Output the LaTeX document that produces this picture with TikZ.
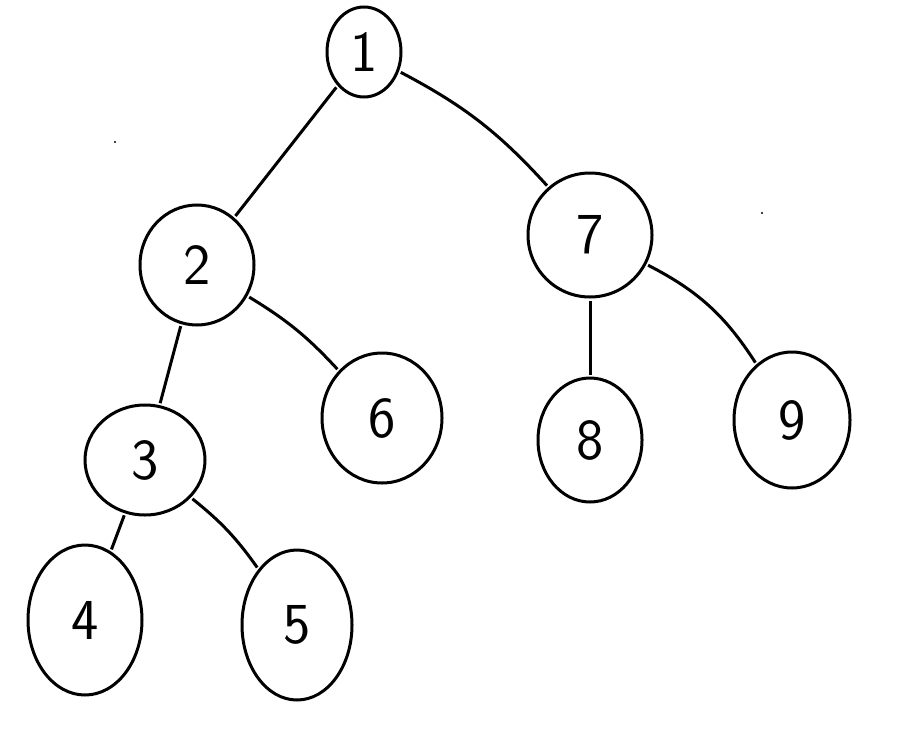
\documentclass[tikz,border=0pt]{standalone}
\usetikzlibrary{shapes.geometric}
\begin{document}
\begin{tikzpicture}[x=1pt,y=-1pt,line width=3pt,
  tn/.style={draw,ellipse,inner sep=0pt,font=\fontsize{58}{58}\selectfont\sffamily},
  ed/.style={shorten <=2pt,shorten >=2pt}]
\useasboundingbox (0,0) rectangle (917,741);
\node[tn,minimum width=74,minimum height=90] (n1) at (364,52) {1};
\node[tn,minimum width=114,minimum height=120] (n2) at (197,265) {2};
\node[tn,minimum width=124,minimum height=124] (n7) at (590,235) {7};
\node[tn,minimum width=120,minimum height=110] (n3) at (145,460) {3};
\node[tn,minimum width=120,minimum height=130] (n6) at (382,418) {6};
\node[tn,minimum width=104,minimum height=124] (n8) at (590,440) {8};
\node[tn,minimum width=116,minimum height=136] (n9) at (792,420) {9};
\node[tn,minimum width=114,minimum height=150] (n4) at (85,620) {4};
\node[tn,minimum width=110,minimum height=150] (n5) at (297,625) {5};
\draw[ed] (n1) -- (n2);
\draw[ed] (n1) to[bend left=10] (n7);
\draw[ed] (n2) -- (n3);
\draw[ed] (n2) to[bend left=8] (n6);
\draw[ed] (n7) -- (n8);
\draw[ed] (n7) to[bend left=15] (n9);
\draw[ed] (n3) -- (n4);
\draw[ed] (n3) to[bend left=8] (n5);
\fill (115,142) circle (1.2);
\fill (762,213) circle (1.2);
\end{tikzpicture}
\end{document}
